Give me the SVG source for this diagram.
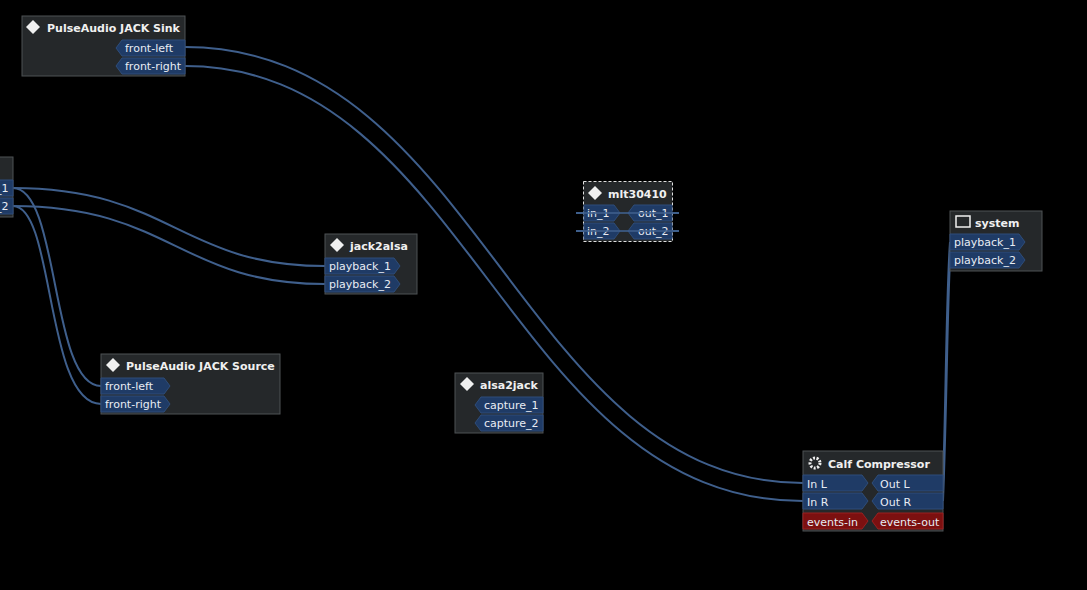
<svg xmlns="http://www.w3.org/2000/svg" width="1087" height="590" viewBox="0 0 1087 590">
<defs>
<style>
.node{fill:#25282a;stroke:#4e5255;stroke-width:1}
.title{font-family:"DejaVu Sans",sans-serif;font-size:11px;font-weight:bold;fill:#f0f0f0}
.pt{font-family:"DejaVu Sans",sans-serif;font-size:11px;fill:#e8ecf4}
.port{fill:#1f3b66;stroke:#2e4d7a;stroke-width:1}
.red{fill:#7c1010;stroke:#9a2020;stroke-width:1}
.wire{fill:none;stroke:#3f5f8c;stroke-width:2}
.ic{fill:#f0f0f0}
</style>
<filter id="glow" x="-20%" y="-20%" width="140%" height="140%"><feGaussianBlur stdDeviation="2.5"/></filter>
</defs>
<rect width="1087" height="590" fill="#000"/>
<g id="connectors">
<path class="wire" d="M185,47 C480,47 520,483 803,483"/>
<path class="wire" d="M185,66 C470,66 510,501 803,501"/>
<path class="wire" d="M13,188 C170,188 180,266 325,266"/>
<path class="wire" d="M13,206 C170,206 180,284 325,284"/>
<path class="wire" d="M13,188 C60,188 50,386 101,386"/>
<path class="wire" d="M13,206 C55,206 45,404 101,404"/>
<path class="wire" d="M943,483 C946,400 946,300 950,242"/>
<path class="wire" d="M943,501 C947,400 947,320 950,260"/>
<path class="wire" d="M576,213 H679 M576,231 H679"/>
</g>
<g id="sink">
<rect x="22" y="16" width="163" height="60" class="node"/>
<path class="ic" d="M33,20 l7,7 -7,7 -7,-7z"/>
<text x="47" y="32" class="title">PulseAudio JACK Sink</text>
<path class="port" d="M122,40 H185 V56 H122 L116,48z"/><text x="125" y="52" class="pt">front-left</text>
<path class="port" d="M122,58 H185 V74 H122 L116,66z"/><text x="125" y="70" class="pt">front-right</text>
</g>
<g id="left-node">
<rect x="-10" y="157" width="23" height="60" class="node"/>
<path class="port" d="M-10,180 H13 V196 H-10z"/><text x="-4" y="192" class="pt">_1</text>
<path class="port" d="M-10,198 H13 V214 H-10z"/><text x="-4" y="210" class="pt">_2</text>
</g>
<g id="jack2alsa">
<rect x="325" y="234" width="92" height="60" class="node"/>
<path class="ic" d="M337,238 l7,7 -7,7 -7,-7z"/>
<text x="350" y="250" class="title">jack2alsa</text>
<path class="port" d="M325,258 H394 L400,266 L394,274 H325z"/><text x="329" y="270" class="pt">playback_1</text>
<path class="port" d="M325,276 H394 L400,284 L394,292 H325z"/><text x="329" y="288" class="pt">playback_2</text>
</g>
<g id="source">
<rect x="101" y="354" width="179" height="60" class="node"/>
<path class="ic" d="M113,358 l7,7 -7,7 -7,-7z"/>
<text x="126" y="370" class="title">PulseAudio JACK Source</text>
<path class="port" d="M101,378 H164 L170,386 L164,394 H101z"/><text x="105" y="390" class="pt">front-left</text>
<path class="port" d="M101,396 H164 L170,404 L164,412 H101z"/><text x="105" y="408" class="pt">front-right</text>
</g>
<g id="alsa2jack">
<rect x="455" y="373" width="88" height="60" class="node"/>
<path class="ic" d="M467,377 l7,7 -7,7 -7,-7z"/>
<text x="480" y="389" class="title">alsa2jack</text>
<path class="port" d="M481,397 H543 V413 H481 L475,405z"/><text x="484" y="409" class="pt">capture_1</text>
<path class="port" d="M481,415 H543 V431 H481 L475,423z"/><text x="484" y="427" class="pt">capture_2</text>
</g>
<g id="mlt30410">
<rect x="583.5" y="181.5" width="89" height="60" fill="#25282a" stroke="#e0e0e0" stroke-dasharray="3,2"/>
<path class="ic" d="M595,186 l7,7 -7,7 -7,-7z"/>
<text x="608" y="198" class="title">mlt30410</text>
<path class="port" d="M584,205 H614 L620,213 L614,221 H584z"/><text x="587" y="217" class="pt">in_1</text>
<path class="port" d="M584,223 H614 L620,231 L614,239 H584z"/><text x="587" y="235" class="pt">in_2</text>
<path class="port" d="M634,205 H672 V221 H634 L628,213z"/><text x="638" y="217" class="pt">out_1</text>
<path class="port" d="M634,223 H672 V239 H634 L628,231z"/><text x="638" y="235" class="pt">out_2</text>
<path class="wire" d="M576,213 H679 M576,231 H679" stroke-opacity="0.8"/>
</g>
<g id="system">
<rect x="950" y="211" width="92" height="60" class="node"/>
<rect x="956" y="216" width="14" height="11" fill="none" stroke="#f0f0f0" stroke-width="1.5"/>
<text x="975" y="227" class="title">system</text>
<path class="port" d="M950,234 H1019 L1025,242 L1019,250 H950z"/><text x="954" y="246" class="pt">playback_1</text>
<path class="port" d="M950,252 H1019 L1025,260 L1019,268 H950z"/><text x="954" y="264" class="pt">playback_2</text>
</g>
<g id="calf">
<rect x="803" y="451" width="140" height="80" class="node"/>
<circle cx="815" cy="463" r="5" fill="none" stroke="#f0f0f0" stroke-width="3" stroke-dasharray="2,1.5"/>
<text x="828" y="468" class="title">Calf Compressor</text>
<path class="port" d="M803,475 H862 L868,483 L862,491 H803z"/><text x="807" y="488" class="pt">In L</text>
<path class="port" d="M803,493 H862 L868,501 L862,509 H803z"/><text x="807" y="506" class="pt">In R</text>
<path class="port" d="M878,475 H943 V491 H878 L872,483z"/><text x="880" y="488" class="pt">Out L</text>
<path class="port" d="M878,493 H943 V509 H878 L872,501z"/><text x="880" y="506" class="pt">Out R</text>
<path class="red" d="M803,513 H862 L868,521 L862,529 H803z"/><text x="807" y="526" class="pt">events-in</text>
<path class="red" d="M878,513 H943 V529 H878 L872,521z"/><text x="880" y="526" class="pt">events-out</text>
</g>
</svg>
